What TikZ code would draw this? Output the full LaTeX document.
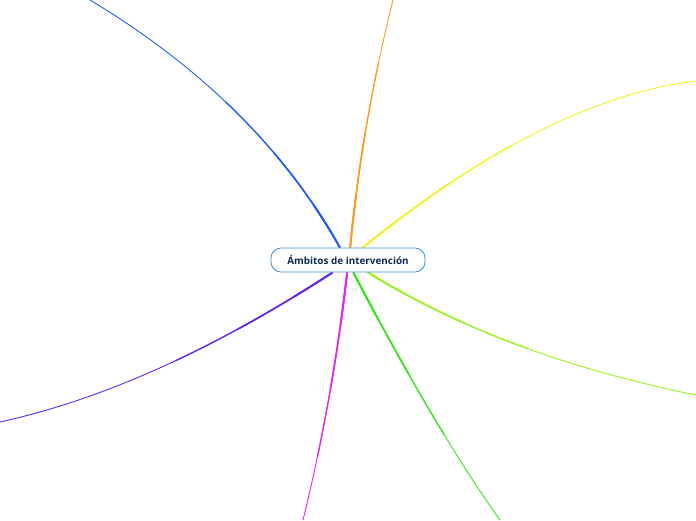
\documentclass[tikz,border=0pt]{standalone}
\usepackage{fontspec}
\setmainfont{Open Sans}
\usetikzlibrary{backgrounds}
\definecolor{cblue}{HTML}{1F5BFF}
\definecolor{corange}{HTML}{FF9A1C}
\definecolor{cyellow}{HTML}{F2F21E}
\definecolor{cyg}{HTML}{9AF21E}
\definecolor{cgreen}{HTML}{2FEA12}
\definecolor{cmag}{HTML}{EE1EEE}
\definecolor{cpurple}{HTML}{6424FF}
\definecolor{nodeborder}{HTML}{3D8FDA}
\definecolor{nodetext}{HTML}{0F2A52}
\newcommand\drawbranches{%
\draw[branch,cblue] (c.123.7) .. controls (285.3,150) and (202,67.3) .. (eblue);
\draw[branch,corange] (c.80.5) .. controls (358,165.3) and (372.3,82.7) .. (eorange);
\draw[branch,cyellow] (c.40.6) .. controls (485.3,148.3) and (596.7,93) .. (eyellow);
\draw[branch,cyg] (c.-32.3) .. controls (457.7,328) and (567.3,369) .. (eyg);
\draw[branch,cgreen] (c.-67.4) .. controls (409,378.7) and (458,461.3) .. (egreen);
\draw[branch,cmag] (c.-94.8) .. controls (337.7,356) and (323,438.7) .. (emag);
\draw[branch,cpurple] (c.-141.3) .. controls (214.3,349.3) and (103.3,399.3) .. (epurple);}
\begin{document}
\begin{tikzpicture}[x=1pt,y=-1pt,
  branch/.style={line width=0.9pt},
  topic/.style={draw=nodeborder,line width=0.8pt,fill=white,rounded corners=10pt,
    minimum width=154pt,minimum height=24pt,inner sep=0pt,
    text=nodetext,font=\bfseries\fontsize{9.9}{12}\selectfont}]
\useasboundingbox (0,0) rectangle (696,520);
\node[topic] (c) at (348,260) {Ámbitos de intervención};
\coordinate (eblue) at (90,0);
\coordinate (eorange) at (393,0);
\coordinate (eyellow) at (696,81);
\coordinate (eyg) at (696,395);
\coordinate (egreen) at (500,520);
\coordinate (emag) at (303,520);
\coordinate (epurple) at (0,422);
\begin{scope}[on background layer]
\drawbranches
\foreach \r/\w in {200/1.25, 130/1.6, 65/1.95}{
  \begin{scope}[branch/.style={line width=\w pt}]
    \clip (c.center) circle[radius=\r];
    \drawbranches
  \end{scope}}
\end{scope}
\end{tikzpicture}
\end{document}
